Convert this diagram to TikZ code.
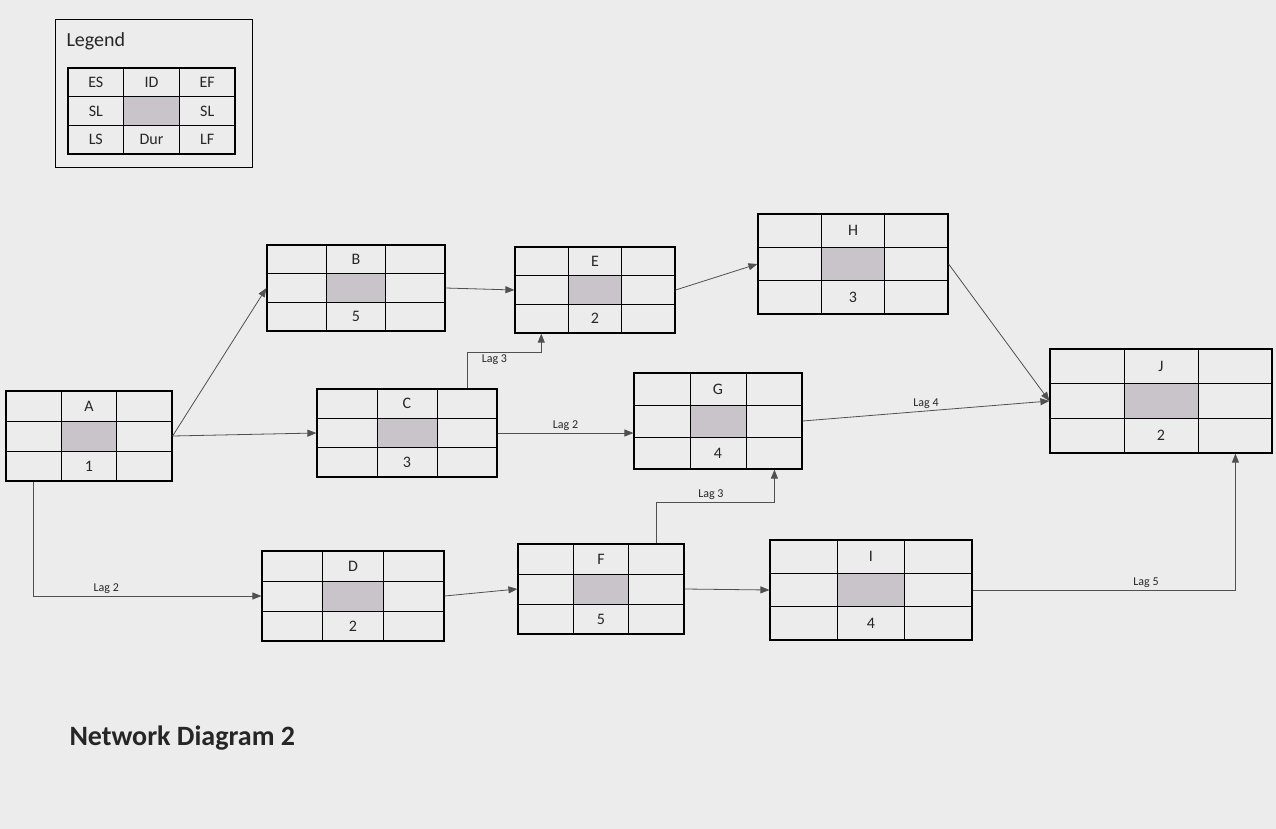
\documentclass[tikz,border=0pt]{standalone}
\usepackage{fontspec}
\setmainfont{Carlito}
\usetikzlibrary{calc,arrows.meta}
\definecolor{paper}{RGB}{236,236,236}
\definecolor{cellgray}{RGB}{200,196,202}
\definecolor{wire}{RGB}{80,80,80}
\tikzset{act/.style n args={2}{draw, line width=1.2pt, inner sep=0pt,
           path picture={
             \coordinate (sw) at (path picture bounding box.south west);
             \coordinate (ne) at (path picture bounding box.north east);
             \fill[cellgray] ($(sw)!1/3!(ne)$) rectangle ($(sw)!2/3!(ne)$);
             \foreach \cut in {1,2} {
               \draw[line width=1pt] ($(sw)!\cut/3!(sw-|ne)$) -- ($(sw|-ne)!\cut/3!(ne)$);
               \draw[line width=1pt] ($(sw)!\cut/3!(sw|-ne)$) -- ($(sw-|ne)!\cut/3!(ne)$);
             }
             \coordinate (mid) at ($(sw)!.5!(ne)$);
             \coordinate (upr) at ($(sw)!5/6!(ne)$);
             \coordinate (lwr) at ($(sw)!1/6!(ne)$);
             \node[cell] at (mid|-upr) {#1};
             \node[cell] at (mid|-lwr) {#2};
           }},
         cell/.style = {font=\fontsize{16}{16}\selectfont, text=black!85},
         flow/.style = {->, draw=wire, line width=.8pt},
         lag/.style  = {font=\fontsize{12}{12}\selectfont, text=black!85, inner sep=2pt}}

\begin{document}
\begin{tikzpicture}[x=1pt, y=-1pt, >={Triangle[length=9pt, width=7pt]}]
    \fill[paper] (0,0) rectangle (1276,829);
    \useasboundingbox (0,0) rectangle (1276,829);
    % legend
    \node[draw, line width=1pt, minimum width=197pt, minimum height=148pt] (legbox) at (153.5,94) {};
    \node[anchor=west, font=\fontsize{20}{20}\selectfont, text=black!85] (legtitle) at (63,41) {Legend};
    \node[act={ID}{Dur}, minimum width=167pt, minimum height=86pt] (legtab) at (151.5,111) {};
    \node[cell] (es) at ($(legtab.center)+(-55.7,-28.7)$) {ES};
    \node[cell] (ef) at ($(legtab.center)+(55.7,-28.7)$) {EF};
    \node[cell] (sl1) at ($(legtab.center)+(-55.7,0)$) {SL};
    \node[cell] (sl2) at ($(legtab.center)+(55.7,0)$) {SL};
    \node[cell] (ls) at ($(legtab.center)+(-55.7,28.7)$) {LS};
    \node[cell] (lf) at ($(legtab.center)+(55.7,28.7)$) {LF};
    % activities
    \node[act={A}{1}, minimum width=166pt, minimum height=90pt] (A) at (89,436) {};
    \node[act={B}{5}, minimum width=178pt, minimum height=86pt] (B) at (356,288) {};
    \node[act={C}{3}, minimum width=180pt, minimum height=88pt] (C) at (407,433) {};
    \node[act={D}{2}, minimum width=182pt, minimum height=90pt] (D) at (353,596) {};
    \node[act={E}{2}, minimum width=160pt, minimum height=86pt] (E) at (595,290) {};
    \node[act={F}{5}, minimum width=166pt, minimum height=90pt] (F) at (601,589) {};
    \node[act={G}{4}, minimum width=168pt, minimum height=96pt] (G) at (718,421) {};
    \node[act={H}{3}, minimum width=190pt, minimum height=100pt] (H) at (853,264) {};
    \node[act={I}{4}, minimum width=202pt, minimum height=100pt] (I) at (871,590) {};
    \node[act={J}{2}, minimum width=222pt, minimum height=104pt] (J) at (1161,401) {};
    % links
    \draw[flow] (A.east) -- (B.west);
    \draw[flow] (A.east) -- (C.west);
    \draw[flow] ($(A.south west)!1/6!(A.south east)$) |- node[lag, above, pos=.66] {Lag 2} (D.west);
    \draw[flow] (B.east) -- (E.west);
    \draw[flow] ($(C.north west)!5/6!(C.north east)$) -- ++(0,-36)
                node[lag, below right, xshift=12pt] {Lag 3} -| ($(E.south west)!1/6!(E.south east)$);
    \draw[flow] (C.east) -- node[lag, above] {Lag 2} (C.east -| G.west);
    \draw[flow] (E.east) -- (H.west);
    \draw[flow] (H.east) -- (J.west);
    \draw[flow] (G.east) -- node[lag, above] {Lag 4} (J.west);
    \draw[flow] (D.east) -- (F.west);
    \draw[flow] ($(F.north west)!5/6!(F.north east)$) -- ++(0,-41)
                -| node[lag, above, pos=.23] {Lag 3} ($(G.south west)!5/6!(G.south east)$);
    \draw[flow] (F.east) -- (I.west);
    \draw[flow] (I.east) -| node[lag, above, pos=.33] {Lag 5} ($(J.south west)!5/6!(J.south east)$);
    % title
    \node[anchor=west, font=\fontsize{28}{28}\selectfont\bfseries, text=black!85] (title) at (66,738) {Network Diagram 2};
  \end{tikzpicture}
\end{document}
